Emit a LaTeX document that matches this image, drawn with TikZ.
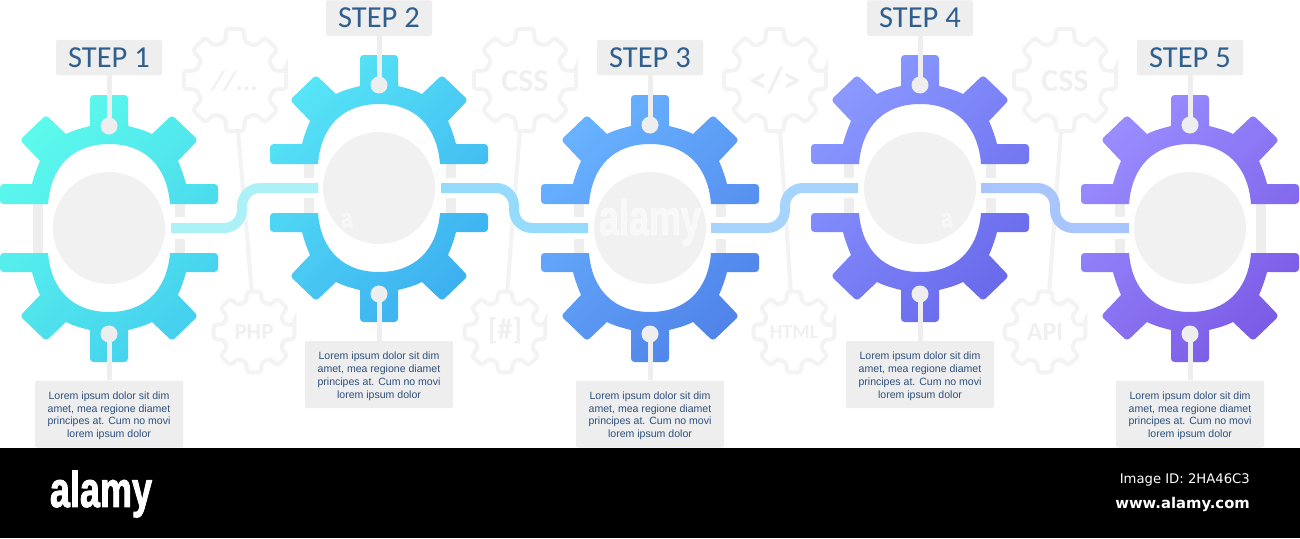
\documentclass[tikz,border=0pt]{standalone}
\usepackage{fontspec}
\setmainfont{Liberation Sans}
\newfontfamily\stepfont{Carlito}
\newfontfamily\wwwfont{DejaVu Sans}
\newfontfamily\logofont[FakeBold=2.2]{Liberation Sans Bold}
\definecolor{greybox}{HTML}{EEEEEE}
\definecolor{greydisc}{HTML}{F1F1F1}
\definecolor{faintline}{HTML}{F3F3F3}
\definecolor{fainttext}{HTML}{F0F0F0}
\definecolor{steptext}{HTML}{2F5F8F}
\definecolor{bodytext}{HTML}{2D4F7C}
\tikzset{
  wire/.style={draw=greybox,line width=5pt},
  pillar/.style={draw=greybox,line width=10pt},
  link/.style={line width=10pt,rounded corners=18pt},
  faintwire/.style={draw=faintline,line width=4pt},
  faintgear/.style={draw=faintline,fill=white,line width=4pt,rounded corners=3.5pt},
  disc/.style={circle,fill=greydisc,minimum size=112pt,inner sep=0pt},
  dotnode/.style={circle,fill=greybox,minimum size=17pt,inner sep=0pt},
  stepbox/.style={fill=greybox,rounded corners=2pt,minimum width=106pt,minimum height=35.5pt,inner sep=0pt,
     text=steptext,font=\stepfont\fontsize{30.5}{30.5}\selectfont},
  textbox/.style={fill=greybox,rounded corners=2pt,minimum width=148pt,minimum height=67pt,inner sep=0pt,
     text=bodytext,align=center,font=\fontsize{10.55}{12.8}\selectfont},
  faintlabel/.style={text=fainttext,inner sep=0pt,font=\stepfont\bfseries\fontsize{#1}{#1}\selectfont},
  logotext/.style={inner sep=0pt,font=\logofont\fontsize{50}{50}\selectfont,xscale=.72},
}
% big gear: centre x, centre y, light colour, dark colour
\newcommand{\biggear}[4]{%
\begin{scope}[shift={(#1,#2)},yscale=-1]
\shade[top color=#3,bottom color=#4,shading angle=45]
 (61,24) [rounded corners=3.5pt] -- (109,24) -- (109,44) [sharp corners] -- (77,44) .. controls (75,52) and (72,60) .. (69,67)
 [rounded corners=3.5pt] -- (89,88) -- (63,113) [sharp corners] -- (43,94) .. controls (35,98) and (27,100) .. (19,102)
 [rounded corners=3.5pt] -- (19,133) -- (-19,133) [sharp corners] -- (-19,102) .. controls (-27,100) and (-35,98) .. (-43,94)
 [rounded corners=3.5pt] -- (-63,113) -- (-89,88) [sharp corners] -- (-69,67) .. controls (-72,60) and (-75,52) .. (-77,44)
 [rounded corners=3.5pt] -- (-109,44) -- (-109,24) [sharp corners] -- (-61,24)
 .. controls (-58,62) and (-36,84) .. (0,84) .. controls (36,84) and (58,62) .. (61,24) -- cycle
 (61,-25) [rounded corners=3.5pt] -- (109,-25) -- (109,-44) [sharp corners] -- (77,-44) .. controls (75,-52) and (72,-60) .. (69,-67)
 [rounded corners=3.5pt] -- (89,-88) -- (63,-113) [sharp corners] -- (43,-94) .. controls (35,-98) and (27,-100) .. (19,-102)
 [rounded corners=3.5pt] -- (19,-134) -- (-19,-134) [sharp corners] -- (-19,-102) .. controls (-27,-100) and (-35,-98) .. (-43,-94)
 [rounded corners=3.5pt] -- (-63,-113) -- (-89,-88) [sharp corners] -- (-69,-67) .. controls (-72,-60) and (-75,-52) .. (-77,-44)
 [rounded corners=3.5pt] -- (-109,-44) -- (-109,-25) [sharp corners] -- (-61,-25)
 .. controls (-58,-62) and (-36,-84) .. (0,-84) .. controls (36,-84) and (58,-62) .. (61,-25) -- cycle;
\end{scope}}
% faint outline gear: centre x, centre y, outer radius
\newcommand{\faintgearshape}[3]{%
\draw[faintgear,shift={(#1,#2)}] (-10:#3)
 \foreach \a in {0,45,...,315}{ -- (\a-10:#3) -- (\a+10:#3) -- (\a+14:{0.76*#3}) -- (\a+31:{0.76*#3}) } -- cycle;}
\begin{document}
\begin{tikzpicture}[x=1pt,y=-1pt]
\useasboundingbox (0,0) rectangle (1300,538);
\fill[white] (0,0) rectangle (1300,538);

% faint background gears, joined pairwise
\coordinate (fa1) at (238,130); \coordinate (fb1) at (252,294);
\coordinate (fa2) at (520,130); \coordinate (fb2) at (507,294);
\coordinate (fa3) at (780,130); \coordinate (fb3) at (791,294);
\coordinate (fa4) at (1061,130); \coordinate (fb4) at (1049,294);
\draw[faintwire] (fa1) -- (fb1);
\draw[faintwire] (fa2) -- (fb2);
\draw[faintwire] (fa3) -- (fb3);
\draw[faintwire] (fa4) -- (fb4);
\faintgearshape{235}{80}{52}
\faintgearshape{525}{80}{52}
\faintgearshape{775}{80}{52}
\faintgearshape{1065}{80}{52}
\faintgearshape{254}{332}{41}
\faintgearshape{505}{332}{41}
\faintgearshape{794}{332}{41}
\faintgearshape{1045}{332}{41}
\node[faintlabel=28] (fl1) at (235,82) {\itshape //...};
\node[faintlabel=32] (fl2) at (525,81) {CSS};
\node[faintlabel=36] (fl3) at (775,81) {</>};
\node[faintlabel=32] (fl4) at (1065,81) {CSS};
\node[faintlabel=23] (fl5) at (254,332) {PHP};
\node[faintlabel=30] (fl6) at (505,331) {[\#]};
\node[faintlabel=20] (fl7) at (794,332) {HTML};
\node[faintlabel=26] (fl8) at (1045,332) {API};

% grey discs
\node[disc] (c1) at (109,228) {};
\node[disc] (c2) at (379,188) {};
\node[disc] (c3) at (650,228) {};
\node[disc] (c4) at (920,188) {};
\node[disc] (c5) at (1190,228) {};

% grey pillars beside the discs
\draw[pillar] (38,204) -- (38,253);
\draw[pillar] (180,204) -- (180,217);
\draw[pillar] (180,239) -- (180,253);
\draw[pillar] (309,164) -- (309,178);
\draw[pillar] (309,198) -- (309,213);
\draw[pillar] (451,164) -- (451,178);
\draw[pillar] (451,198) -- (451,213);
\draw[pillar] (579,204) -- (579,217);
\draw[pillar] (579,239) -- (579,253);
\draw[pillar] (721,204) -- (721,217);
\draw[pillar] (721,239) -- (721,253);
\draw[pillar] (849,164) -- (849,178);
\draw[pillar] (849,198) -- (849,213);
\draw[pillar] (991,164) -- (991,178);
\draw[pillar] (991,198) -- (991,213);
\draw[pillar] (1120,204) -- (1120,217);
\draw[pillar] (1120,239) -- (1120,253);
\draw[pillar] (1261,204) -- (1261,253);

% watermark traces on the discs
\node[logotext,text=white,opacity=.55] (wm) at (650,222) {alamy};
\node[logotext,text=white,opacity=.45,font=\logofont\fontsize{28}{28}\selectfont] (wm2) at (347,220) {a};
\node[logotext,text=white,opacity=.45,font=\logofont\fontsize{28}{28}\selectfont] (wm4) at (947,220) {a};

% connectors
\coordinate (l1a) at (171,228); \coordinate (l1c) at (242,228); \coordinate (l1d) at (242,188); \coordinate (l1b) at (318,188);
\coordinate (l2a) at (441,188); \coordinate (l2c) at (514,188); \coordinate (l2d) at (514,228); \coordinate (l2b) at (588,228);
\coordinate (l3a) at (711,228); \coordinate (l3c) at (785,228); \coordinate (l3d) at (785,188); \coordinate (l3b) at (858,188);
\coordinate (l4a) at (981,188); \coordinate (l4c) at (1055,188); \coordinate (l4d) at (1055,228); \coordinate (l4b) at (1129,228);
\draw[link,draw={rgb,255:red,172;green,241;blue,247}] (l1a) -- (l1c) -- (l1d) -- (l1b);
\draw[link,draw={rgb,255:red,148;green,219;blue,252}] (l2a) -- (l2c) -- (l2d) -- (l2b);
\draw[link,draw={rgb,255:red,166;green,212;blue,253}] (l3a) -- (l3c) -- (l3d) -- (l3b);
\draw[link,draw={rgb,255:red,168;green,198;blue,253}] (l4a) -- (l4c) -- (l4d) -- (l4b);

% gears
\definecolor{ga}{HTML}{5CFAEC}\definecolor{gb}{HTML}{45D0EE}
\definecolor{gc}{HTML}{56E4F6}\definecolor{gd}{HTML}{3DB0F0}
\definecolor{ge}{HTML}{68B2FF}\definecolor{gf}{HTML}{5084EA}
\definecolor{gg}{HTML}{8A98FF}\definecolor{gh}{HTML}{6A6AEC}
\definecolor{gi}{HTML}{988CFF}\definecolor{gj}{HTML}{7C5CE6}
\biggear{109}{228}{ga}{gb}
\biggear{379}{188}{gc}{gd}
\biggear{650}{228}{ge}{gf}
\biggear{920}{188}{gg}{gh}
\biggear{1190}{228}{gi}{gj}

% step labels
\node[stepbox] (s1) at (109,57.5) {STEP 1};
\node[stepbox] (s2) at (379,18) {STEP 2};
\node[stepbox] (s3) at (650,57.5) {STEP 3};
\node[stepbox] (s4) at (920,18) {STEP 4};
\node[stepbox] (s5) at (1190,57.5) {STEP 5};

% text boxes
\newcommand{\lorem}{\rule{0pt}{11pt}Lorem ipsum dolor sit dim\\amet, mea regione diamet\\principes at. Cum no movi\\lorem ipsum dolor}
\node[textbox] (t1) at (109,414) {\lorem};
\node[textbox] (t2) at (379,374.5) {\lorem};
\node[textbox] (t3) at (650,414) {\lorem};
\node[textbox] (t4) at (920,374.5) {\lorem};
\node[textbox] (t5) at (1190,414) {\lorem};

% dots
\node[dotnode] (u1) at (109,126) {};
\node[dotnode] (u2) at (379,85) {};
\node[dotnode] (u3) at (650,125) {};
\node[dotnode] (u4) at (920,85) {};
\node[dotnode] (u5) at (1190,125) {};
\node[dotnode] (d1) at (109,334) {};
\node[dotnode] (d2) at (379,294) {};
\node[dotnode] (d3) at (650,334) {};
\node[dotnode] (d4) at (920,294) {};
\node[dotnode] (d5) at (1190,334) {};
\foreach \n in {1,...,5}{
  \draw[wire] (s\n.south) -- (u\n.center);
  \draw[wire] (d\n.center) -- (t\n.north);
}

% footer band
\fill[black] (0,448) rectangle (1300,538);
\node[logotext,text=white] (logo) at (101,494) {alamy};
\node[text=white,inner sep=0pt,anchor=east,font=\wwwfont\fontsize{13.2}{13.2}\selectfont] (imgid) at (1250,480) {Image ID: 2HA46C3};
\node[text=white,inner sep=0pt,anchor=east,font=\wwwfont\bfseries\fontsize{14.8}{14.8}\selectfont] (www) at (1250,504) {www.alamy.com};
\end{tikzpicture}
\end{document}
